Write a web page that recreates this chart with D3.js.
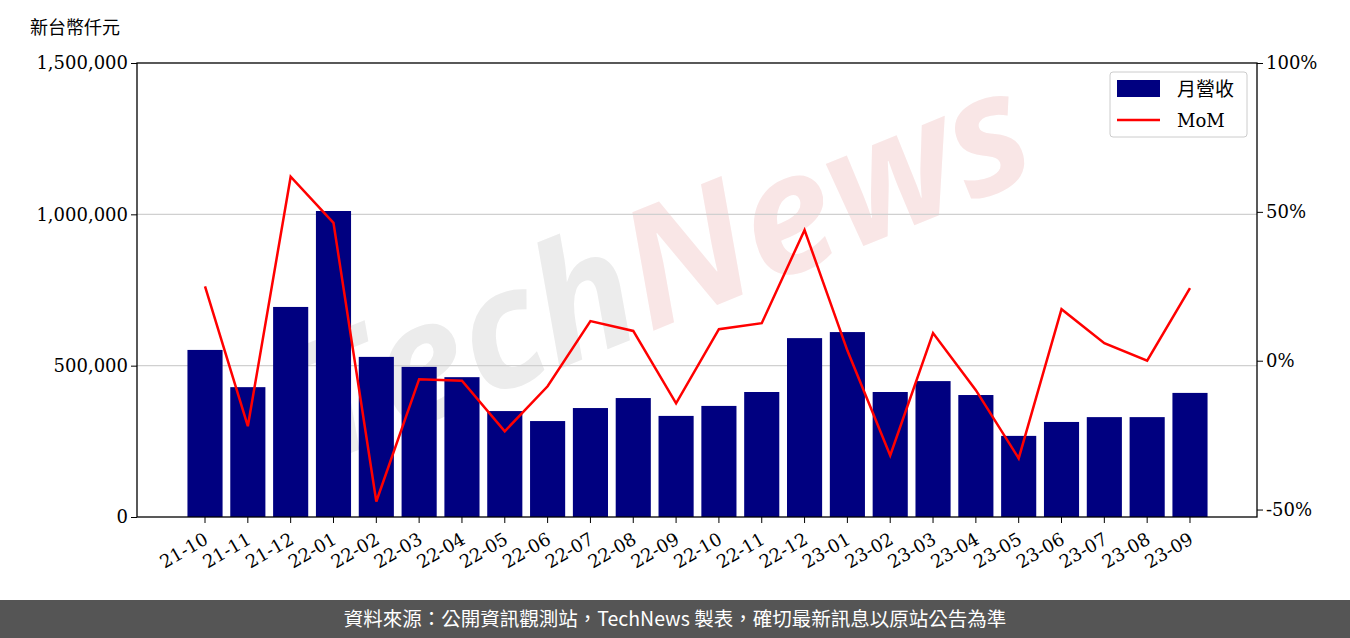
<!DOCTYPE html>
<html><head><meta charset="utf-8">
<script src="https://cdn.jsdelivr.net/npm/d3@7/dist/d3.min.js"></script>
<style>body{margin:0;background:#fff}</style></head>
<body><svg id="c" width="1350" height="638"></svg>
<script>
const categories=["21-10","21-11","21-12","22-01","22-02","22-03","22-04","22-05","22-06","22-07","22-08","22-09","22-10","22-11","22-12","23-01","23-02","23-03","23-04","23-05","23-06","23-07","23-08","23-09"];
const revenue=[552000,429000,694000,1011000,529000,496000,462000,350000,317000,360000,393000,334000,367000,413000,591000,611000,413000,449000,403000,268000,314000,330000,330000,410000];
const mom=[25,-22,61.8,46.3,-47.3,-6.2,-6.7,-23.7,-8.6,13.3,10,-14.3,10.6,12.6,43.9,3.4,-31.8,9.3,-9.9,-32.8,17.3,5.9,0,24.4];
const leftTicks=[0,500000,1000000,1500000];
const rightTicks=[-50,0,50,100];
const svg=d3.select("#c");
const L=137,R=1257,T=63,B=517;
const serif="'DejaVu Serif',serif", cjk="'Noto Sans CJK TC',sans-serif";
const wm=svg.append("text").attr("transform","translate(680,320) rotate(-22)").attr("text-anchor","middle")
 .attr("font-family","'Open Sans',sans-serif").attr("font-weight","bold").attr("font-style","italic").attr("font-size",165);
wm.append("tspan").attr("fill","#ececec").text("Tech");
wm.append("tspan").attr("fill","#f9e6e6").text("News");
const x=d3.scaleBand().domain(categories).range([183.6,1211.4]).paddingInner(0.18).paddingOuter(0.09);
const y=d3.scaleLinear().domain([0,1500000]).range([B,T]);
const y2=d3.scaleLinear().domain([-52.5,100]).range([B,T]);
svg.append("g").selectAll("line").data([500000,1000000]).join("line")
 .attr("x1",L).attr("x2",R).attr("y1",d=>y(d)).attr("y2",d=>y(d)).attr("stroke","#d0d0d0").attr("stroke-width",1.3);
svg.append("g").selectAll("rect").data(revenue).join("rect")
 .attr("x",(d,i)=>x(categories[i])).attr("width",x.bandwidth()).attr("y",d=>y(d)).attr("height",d=>B-y(d)).attr("fill","#000080");
svg.append("path").datum(mom).attr("fill","none").attr("stroke","#ff0000").attr("stroke-width",2.5)
 .attr("d",d3.line().x((d,i)=>x(categories[i])+x.bandwidth()/2).y(d=>y2(d)));
svg.append("rect").attr("x",L).attr("y",T).attr("width",R-L).attr("height",B-T).attr("fill","none").attr("stroke","#000").attr("stroke-width",1.3);
const ax=svg.append("g").attr("transform",`translate(${L},0)`).call(d3.axisLeft(y).tickValues(leftTicks).tickFormat(d3.format(",")).tickSize(6));
const ax2=svg.append("g").attr("transform",`translate(${R},0)`).call(d3.axisRight(y2).tickValues(rightTicks).tickFormat(d=>d+"%").tickSize(6));
const axb=svg.append("g").attr("transform",`translate(0,${B})`).call(d3.axisBottom(x).tickSize(6));
[ax,ax2,axb].forEach(a=>{a.select(".domain").remove();a.selectAll("text").attr("font-family",serif).attr("font-size",18).attr("fill","#000");});
axb.selectAll("text").attr("text-anchor","end").attr("dy",0).attr("transform","translate(0,18) rotate(-30)");
svg.append("text").attr("x",30).attr("y",34).attr("font-family",cjk).attr("font-size",18).text("新台幣仟元");
const lg=svg.append("g");
lg.append("rect").attr("x",1110).attr("y",72).attr("width",137).attr("height",65).attr("rx",3).attr("fill","#fff").attr("stroke","#ccc");
lg.append("rect").attr("x",1117).attr("y",80).attr("width",43).attr("height",17).attr("fill","#000080");
lg.append("line").attr("x1",1117).attr("x2",1160).attr("y1",120).attr("y2",120).attr("stroke","#ff0000").attr("stroke-width",2.5);
lg.append("text").attr("x",1177).attr("y",96).attr("font-family",cjk).attr("font-size",19).text("月營收");
lg.append("text").attr("x",1177).attr("y",127).attr("font-family",serif).attr("font-size",18).text("MoM");
svg.append("rect").attr("x",0).attr("y",600).attr("width",1350).attr("height",38).attr("fill","#555");
svg.append("text").attr("x",675).attr("y",626).attr("text-anchor","middle").attr("fill","#fff").attr("font-family",cjk).attr("font-size",19.5).text("資料來源：公開資訊觀測站，TechNews 製表，確切最新訊息以原站公告為準");
</script></body></html>
